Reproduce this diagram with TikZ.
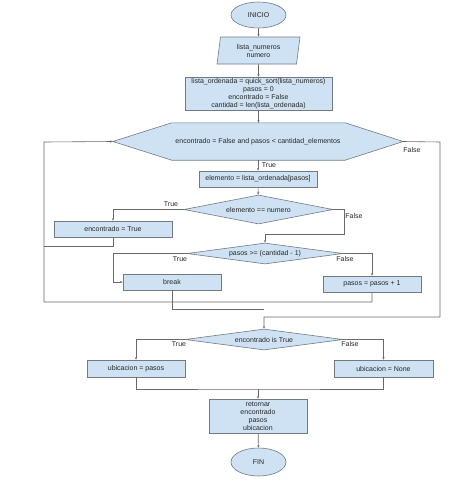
\documentclass[tikz,border=0pt]{standalone}
\usepackage{fontspec}
\setmainfont{Liberation Sans}
\usetikzlibrary{shapes.geometric,arrows.meta,calc,backgrounds}
\definecolor{boxfill}{HTML}{CFE2F3}
\definecolor{boxline}{HTML}{717A84}
\definecolor{conline}{HTML}{6A6A6A}
\begin{document}
\begin{tikzpicture}[x=1pt,y=-1pt,
  every node/.style={font=\fontsize{7}{8}\selectfont, text=black!85},
  shp/.style={draw=boxline, fill=boxfill, line width=0.6pt},
  proc/.style={shp, rectangle, inner sep=0pt, align=center},
  term/.style={shp, ellipse, inner sep=0pt},
  dec/.style={shp, diamond, inner sep=0.5pt, aspect=6},
  io/.style={shp, trapezium, trapezium left angle=75, trapezium right angle=105, trapezium stretches body, inner sep=0pt, align=center},
  con/.style={draw=conline, line width=0.6pt},
  arr/.style={con, -{Stealth[length=2.6pt,width=2.2pt]}},
  lbl/.style={inner sep=0pt}
]
\useasboundingbox (0,0) rectangle (474,488);

% nodes
\node[term, minimum width=55pt, minimum height=26pt] (inicio) at (258.5,15) {INICIO};
\node[io, minimum width=83pt, minimum height=27pt] (entrada) at (258.5,50.5) {lista\_numeros\\numero};
\node[proc, minimum width=147pt, minimum height=33pt] (init) at (258.5,93.5)
  {lista\_ordenada = quick\_sort(lista\_numeros)\\pasos = 0\\encontrado = False\\cantidad = len(lista\_ordenada)};
\node[inner sep=0pt, minimum width=290pt, minimum height=37pt] (hex) at (258,141.5)
  {encontrado = False and pasos {\char`\<} cantidad\_elementos};
\begin{scope}[on background layer]
\filldraw[shp] (hex.west) -- ($(hex.north west)+(59,0)$) -- ($(hex.north east)+(-58,0)$) -- (hex.east)
  -- ($(hex.south east)+(-58,0)$) -- ($(hex.south west)+(59,0)$) -- cycle;
\end{scope}

\node[proc, minimum width=118pt, minimum height=16pt] (elem) at (258,179) {elemento = lista\_ordenada[pasos]};
\node[dec, minimum width=149pt, minimum height=29pt] (d1) at (258.5,209.5) {elemento == numero};
\node[proc, minimum width=118pt, minimum height=16pt] (enct) at (113,229) {encontrado = True};
\node[dec, minimum width=156pt, minimum height=21pt] (d2) at (265,253.5) {pasos {\char`\>}= (cantidad - 1)};
\node[proc, minimum width=98pt, minimum height=16pt] (brk) at (172,282) {break};
\node[proc, minimum width=98pt, minimum height=16pt] (inc) at (372,284) {pasos = pasos + 1};
\node[dec, minimum width=158pt, minimum height=21pt] (d3) at (264,339.5) {encontrado is True};
\node[proc, minimum width=98pt, minimum height=17pt] (ubip) at (136,368.5) {ubicacion = pasos};
\node[proc, minimum width=99pt, minimum height=17pt] (ubin) at (383.5,368.5) {ubicacion = None};
\node[proc, minimum width=98pt, minimum height=34pt] (ret) at (258,416) {retornar\\encontrado\\pasos\\ubicacion};
\node[term, minimum width=55pt, minimum height=28pt] (fin) at (258.5,462) {FIN};

% labels
\node[lbl] (lt0) at (269,165) {True};
\node[lbl] (lf0) at (412,150) {False};
\node[lbl] (lt1) at (171,204) {True};
\node[lbl] (lf1) at (354,216) {False};
\node[lbl] (lt2) at (180,259) {True};
\node[lbl] (lf2) at (345,259) {False};
\node[lbl] (lt3) at (179,344) {True};
\node[lbl] (lf3) at (350,344) {False};

% helper coordinates
\coordinate (loopL) at (44,142);
\coordinate (loopB) at (44,302);
\coordinate (encJ) at (44,246);
\coordinate (exitR) at (440,142);
\coordinate (exitB) at (440,317);
\coordinate (exitJ) at (264,317);
\coordinate (brkJ) at (264,309);
\coordinate (d1R) at (344,209.5);
\coordinate (d1B) at (344,234);
\coordinate (d1J) at (265,234);
\coordinate (d2L) at (113,253.5);
\coordinate (d2B) at (113,282);
\coordinate (merge) at (258,389);

% connectors
\draw[arr] (inicio) -- (entrada);
\draw[arr] (entrada) -- (init);
\draw[arr] (init) -- (hex.north -| init.south);
\draw[arr] (hex.south) -- (elem);
\draw[arr] (elem) -- (d1);
\draw[arr] (d1.west) -| (enct.north);
\draw[arr] (d1.east) -- (d1R) -- (d1B) -- (d1J) -- (d2.north);
\draw[con] (enct.south) |- (encJ);
\draw[arr] (d2.west) -- (d2L) -- (d2B) -- (brk.west);
\draw[arr] (d2.east) -| (inc.north);
\draw[arr] (inc.south) |- (loopB) -- (loopL) -- (hex.west);
\draw[arr] (hex.east) -- (exitR) -- (exitB) -- (exitJ) -- (d3.north);
\draw[con] (brk.south) |- (brkJ);
\draw[arr] (d3.west) -| (ubip.north);
\draw[arr] (d3.east) -| (ubin.north);
\draw[con] (ubip.south) |- (merge) -| (ubin.south);
\draw[arr] (merge) -- (ret.north);
\draw[arr] (ret) -- (fin);
\end{tikzpicture}
\end{document}
